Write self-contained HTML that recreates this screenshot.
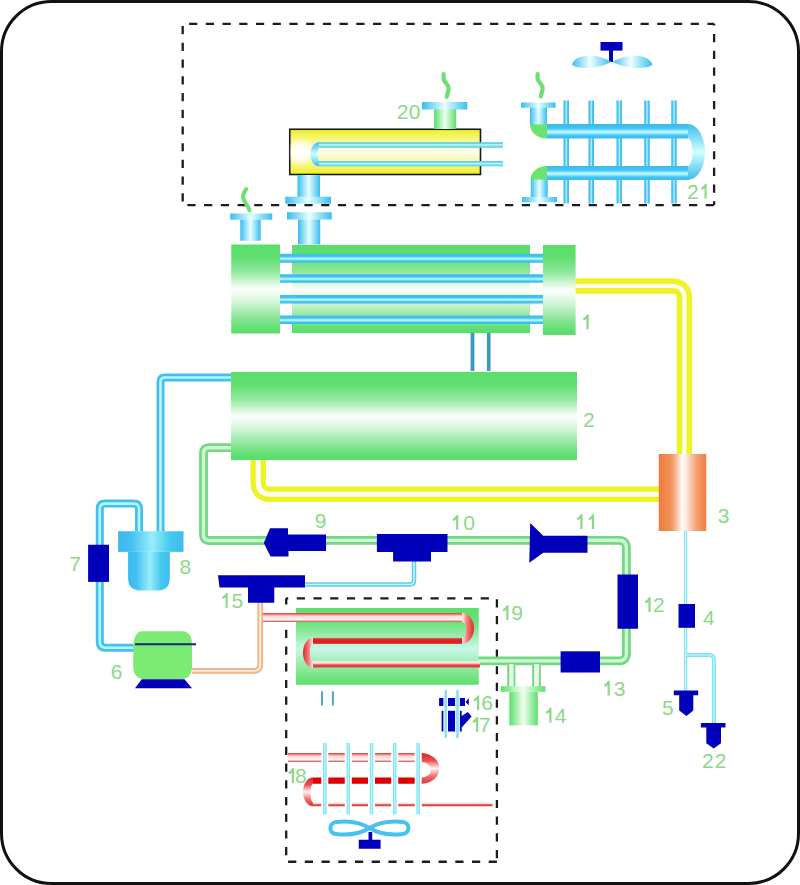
<!DOCTYPE html>
<html><head><meta charset="utf-8"><style>
html,body{margin:0;padding:0;background:#fff;width:800px;height:885px;overflow:hidden}
svg{display:block}
.lab path{fill:#8ad98a}
text{font-family:"Liberation Sans",sans-serif;font-size:21px;letter-spacing:0.8px;fill:#8ad98a}
</style></head><body>
<svg width="800" height="885" viewBox="0 0 800 885">
<defs>
<linearGradient id="gV" x1="0" y1="0" x2="0" y2="1">
<stop offset="0" stop-color="#5ade6a"/><stop offset="0.14" stop-color="#60df70"/><stop offset="0.3" stop-color="#8ee89a"/><stop offset="0.5" stop-color="#fbfffb"/><stop offset="0.56" stop-color="#eefbf0"/><stop offset="0.68" stop-color="#c6f2cc"/><stop offset="0.83" stop-color="#8ae596"/><stop offset="0.95" stop-color="#5edf6e"/><stop offset="1" stop-color="#5ade6a"/>
</linearGradient>
<linearGradient id="g19" x1="0" y1="0" x2="0" y2="1">
<stop offset="0" stop-color="#5cdf6b"/><stop offset="0.2" stop-color="#6ce27a"/><stop offset="0.53" stop-color="#c8f8e8"/><stop offset="0.8" stop-color="#8ae89a"/><stop offset="1" stop-color="#5cdf6b"/>
</linearGradient>
<linearGradient id="cH" x1="0" y1="0" x2="1" y2="0">
<stop offset="0" stop-color="#38bdf0"/><stop offset="0.5" stop-color="#e6ffff"/><stop offset="1" stop-color="#38bdf0"/>
</linearGradient>
<linearGradient id="cV" x1="0" y1="0" x2="0" y2="1">
<stop offset="0" stop-color="#3cbcec"/><stop offset="0.3" stop-color="#40c4f0"/><stop offset="0.55" stop-color="#c8fcff"/><stop offset="0.8" stop-color="#40c4f0"/><stop offset="1" stop-color="#3cbcec"/>
</linearGradient>
<linearGradient id="gH" x1="0" y1="0" x2="1" y2="0">
<stop offset="0" stop-color="#5cdf6b"/><stop offset="0.5" stop-color="#f0fff0"/><stop offset="1" stop-color="#5cdf6b"/>
</linearGradient>
<linearGradient id="yV" x1="0" y1="0" x2="0" y2="1">
<stop offset="0" stop-color="#eef020"/><stop offset="0.5" stop-color="#fffff4"/><stop offset="1" stop-color="#eef020"/>
</linearGradient>
<linearGradient id="oH" x1="0" y1="0" x2="1" y2="0">
<stop offset="0" stop-color="#ee7c3c"/><stop offset="0.25" stop-color="#f2905a"/><stop offset="0.4" stop-color="#f8c8ac"/><stop offset="0.49" stop-color="#ffffff"/><stop offset="0.56" stop-color="#fdeee4"/><stop offset="0.78" stop-color="#f4a478"/><stop offset="1" stop-color="#ee7e40"/>
</linearGradient>
<linearGradient id="fan" x1="0" y1="0" x2="1" y2="0">
<stop offset="0" stop-color="#3cbcf0"/><stop offset="0.45" stop-color="#f0ffff"/><stop offset="1" stop-color="#3cbcf0"/>
</linearGradient>
<linearGradient id="uV" x1="0" y1="0" x2="0" y2="1">
<stop offset="0" stop-color="#3cbcec"/><stop offset="0.5" stop-color="#d0ffff"/><stop offset="1" stop-color="#3cbcec"/>
</linearGradient>
<linearGradient id="rT" x1="0" y1="0" x2="0" y2="1">
<stop offset="0" stop-color="#d83838"/><stop offset="0.35" stop-color="#ffd8d8"/><stop offset="0.75" stop-color="#fff4f4"/><stop offset="1" stop-color="#c85040"/>
</linearGradient>
<linearGradient id="rM" x1="0" y1="0" x2="0" y2="1">
<stop offset="0" stop-color="#f07070"/><stop offset="0.3" stop-color="#e02020"/><stop offset="1" stop-color="#d82020"/>
</linearGradient>
<linearGradient id="rB" x1="0" y1="0" x2="0" y2="1">
<stop offset="0" stop-color="#fff4f4"/><stop offset="0.35" stop-color="#ffc8c8"/><stop offset="0.6" stop-color="#e04848"/><stop offset="1" stop-color="#d04040"/>
</linearGradient>
<linearGradient id="rU" x1="0" y1="0" x2="1" y2="0">
<stop offset="0" stop-color="#e02828"/><stop offset="0.6" stop-color="#f48080"/><stop offset="1" stop-color="#fff0f0"/>
</linearGradient>
<linearGradient id="rUR" x1="0" y1="0" x2="1" y2="0">
<stop offset="0" stop-color="#fff0f0"/><stop offset="0.4" stop-color="#f48080"/><stop offset="1" stop-color="#e02828"/>
</linearGradient>
<radialGradient id="yR" gradientUnits="userSpaceOnUse" cx="301" cy="152" r="14" gradientTransform="translate(301,152) scale(1,1.1) translate(-301,-152)">
<stop offset="0" stop-color="#ffffff" stop-opacity="1"/><stop offset="0.45" stop-color="#ffffff" stop-opacity="0.75"/><stop offset="1" stop-color="#ffffff" stop-opacity="0"/>
</radialGradient>
<linearGradient id="tubeY" x1="0" y1="0" x2="0" y2="1">
<stop offset="0" stop-color="#58cce4"/><stop offset="0.25" stop-color="#64d4ec"/><stop offset="0.45" stop-color="#c0faff"/><stop offset="0.75" stop-color="#7adcec"/><stop offset="1" stop-color="#58cce4"/>
</linearGradient>
<linearGradient id="c8" x1="0" y1="0" x2="1" y2="0">
<stop offset="0" stop-color="#3cb8f0"/><stop offset="0.2" stop-color="#44c0f0"/><stop offset="0.52" stop-color="#98ecfa"/><stop offset="0.8" stop-color="#44c8f0"/><stop offset="1" stop-color="#3cbcf0"/>
</linearGradient>
<linearGradient id="rUV" x1="0" y1="0" x2="0" y2="1">
<stop offset="0" stop-color="#e02424"/><stop offset="0.25" stop-color="#ec5050"/><stop offset="0.5" stop-color="#fff4f4"/><stop offset="0.75" stop-color="#f07070"/><stop offset="1" stop-color="#e03030"/>
</linearGradient>
<linearGradient id="fin" x1="0" y1="0" x2="1" y2="0">
<stop offset="0" stop-color="#70d8ec"/><stop offset="0.5" stop-color="#b8f6fc"/><stop offset="1" stop-color="#70d8ec"/>
</linearGradient>
<linearGradient id="finC" x1="0" y1="0" x2="1" y2="0">
<stop offset="0" stop-color="#3cb8ea"/><stop offset="0.3" stop-color="#52c8f0"/><stop offset="0.5" stop-color="#c4f6ff"/><stop offset="0.7" stop-color="#52c8f0"/><stop offset="1" stop-color="#3cb8ea"/>
</linearGradient>
</defs>

<!-- outer frame -->
<rect x="1.5" y="1.5" width="797" height="882" rx="50" ry="50" fill="#fff" stroke="#111" stroke-width="3"/>

<!-- dashed boxes -->
<g fill="none" stroke="#1c1c1c" stroke-width="2.3" stroke-dasharray="8.2 8.52">
<line x1="182.70" y1="23.85" x2="714.10" y2="23.85" stroke-dashoffset="10.32"/>
<line x1="714.10" y1="23.85" x2="714.10" y2="205.10" stroke-dashoffset="6.47"/>
<line x1="182.70" y1="205.10" x2="714.10" y2="205.10" stroke-dashoffset="12.02"/>
<line x1="182.70" y1="23.85" x2="182.70" y2="205.10" stroke-dashoffset="14.47"/>
<line x1="286.20" y1="598.35" x2="496.90" y2="598.35" stroke-dashoffset="6.17"/>
<line x1="496.90" y1="598.35" x2="496.90" y2="861.75" stroke-dashoffset="15.82"/>
<line x1="286.20" y1="861.75" x2="496.90" y2="861.75" stroke-dashoffset="14.82"/>
<line x1="286.20" y1="598.35" x2="286.20" y2="861.75" stroke-dashoffset="2.05"/>
</g>

<!-- top fan -->
<rect x="600.5" y="42" width="22" height="8.6" fill="#0000bb"/>
<rect x="609" y="50" width="4" height="12" fill="#0000bb"/>
<path d="M611.5,62 C604,57 595,55.2 586,55.8 C578,56.5 573,60.5 572,64.5 C574.5,67.5 583,68.6 592,67.8 C600,67 606,64.5 611.5,62 Z" fill="url(#fan)"/>
<path d="M612.5,62 C620,57 629,55.2 638,55.8 C646,56.5 651,60.5 652.5,64.5 C650,67.5 641,68.6 632,67.8 C624,67 618,64.5 612.5,62 Z" fill="url(#fan)"/>

<!-- component 20 yellow box -->
<rect x="289.75" y="129.25" width="190.75" height="45.25" fill="url(#yV)" stroke="#1a1a1a" stroke-width="1.6"/>
<!-- U tube inside 20 -->
<rect x="289.75" y="129.25" width="190.75" height="45.25" fill="url(#yR)"/>
<rect x="318.5" y="142.2" width="184.5" height="5.6" fill="url(#tubeY)"/>
<rect x="318.5" y="161" width="184.5" height="5.3" fill="url(#tubeY)"/>
<path d="M319,142.2 A8.7,12 0 0 0 319,166.3 L319,161 A1.5,6.6 0 0 1 319,147.8 Z" fill="url(#uV)"/>
<!-- 20 outlet -->
<rect x="434" y="109" width="22.25" height="20" fill="url(#gH)"/>
<rect x="422" y="102" width="45.25" height="7.5" fill="url(#cH)"/>
<path d="M443.6,74.2 L443.6,79 C444,82.5 448.6,84 448.6,88 C448.6,92 447.2,94 446.8,96.8" fill="none" stroke="#6ce070" stroke-width="4.2" stroke-linecap="round"/>


<!-- pipe from 20 down to 1 -->
<rect x="297.5" y="175" width="22.5" height="22" fill="url(#cH)"/>
<rect x="285.25" y="196.75" width="45.75" height="7" fill="url(#cH)"/>
<rect x="287" y="212.25" width="44.75" height="7.25" fill="url(#cH)"/>
<rect x="298" y="219.5" width="22.25" height="25" fill="url(#cH)"/>

<!-- steam vent left -->
<path d="M246.3,189 C244,192 242.5,195 243.5,199 C244.5,203 249,206 249.5,210.5" fill="none" stroke="#6ce070" stroke-width="4" stroke-linecap="round"/>
<rect x="230.25" y="213.5" width="42" height="6.25" fill="url(#cH)"/>
<rect x="240.25" y="219.75" width="20.5" height="21" fill="url(#cH)"/>

<!-- condenser 21 -->
<g>
<rect x="563.5" y="100.5" width="5.5" height="103" fill="url(#finC)"/>
<rect x="588.5" y="100.5" width="5.5" height="103" fill="url(#finC)"/>
<rect x="616.5" y="100.5" width="5.5" height="103" fill="url(#finC)"/>
<rect x="644.25" y="100.5" width="5.5" height="103" fill="url(#finC)"/>
<rect x="671.25" y="100.5" width="5.5" height="103" fill="url(#finC)"/>
</g>
<rect x="547" y="124" width="141" height="14.5" fill="url(#cV)"/>
<rect x="547" y="166" width="141" height="14" fill="url(#cV)"/>
<path d="M688,124 A17,28 0 0 1 688,180 L688,166 A4.5,13.75 0 0 0 688,138.5 Z" fill="url(#uV)"/>
<rect x="530" y="107" width="17" height="18.5" fill="url(#cH)"/>
<rect x="521" y="102.5" width="34.6" height="5.25" fill="url(#cH)"/>
<path d="M547,124.5 L530,124.5 A17,14 0 0 0 547,138.5 Z" fill="#6ae46e"/>
<path d="M547,180 L530.5,180 A16.5,14 0 0 1 547,166 Z" fill="#6ae46e"/>
<rect x="530.75" y="179.5" width="17" height="18" fill="url(#cH)"/>
<rect x="522" y="197" width="35" height="5.25" fill="url(#cH)"/>
<path d="M537.6,74 L537.6,78.8 C538,82.3 542.6,83.8 542.6,87.8 C542.6,91.8 541.2,93.8 540.8,96.4" fill="none" stroke="#6ce070" stroke-width="4.2" stroke-linecap="round"/>


<!-- component 1 -->
<rect x="231.25" y="244.5" width="48.75" height="89" fill="url(#gV)"/>
<rect x="292" y="245" width="238" height="88" fill="url(#gV)"/>
<rect x="543" y="245" width="32.6" height="90" fill="url(#gV)"/>
<g>
<rect x="280" y="253.75" width="263" height="9" fill="url(#cV)"/>
<rect x="280" y="274.25" width="263" height="8.5" fill="url(#cV)"/>
<rect x="280" y="295" width="263" height="8.5" fill="url(#cV)"/>
<rect x="280" y="315.5" width="263" height="8.5" fill="url(#cV)"/>
</g>


<!-- connection 1-2 -->
<rect x="470.6" y="333" width="3.8" height="38" fill="#3a9cbc"/>
<rect x="486.9" y="333" width="3.7" height="38" fill="#3a9cbc"/>

<!-- yellow pipe 1 -> 3 -->
<path d="M575.6,286 L672,286 Q684.4,286 684.4,298 L684.4,454" fill="none" stroke="#eef228" stroke-width="15.5"/>
<path d="M575.6,286 L672,286 Q684.4,286 684.4,298 L684.4,454" fill="none" stroke="#fdfff0" stroke-width="4.2"/>
<!-- yellow pipe 2 -> 3 -->
<path d="M258.25,460 L258.25,482 Q258.25,494.25 270.5,494.25 L659,494.25" fill="none" stroke="#eef228" stroke-width="15.5"/>
<path d="M258.25,460 L258.25,482 Q258.25,494.25 270.5,494.25 L659,494.25" fill="none" stroke="#fdfff0" stroke-width="5"/>

<!-- blue pipe from 2 to 8 -->
<path d="M231,377.5 L165,377.5 Q160.5,377.5 160.5,382 L160.5,531.5" fill="none" stroke="#42bfee" stroke-width="8"/>
<path d="M231,377.5 L165,377.5 Q160.5,377.5 160.5,382 L160.5,531.5" fill="none" stroke="#b4f8ff" stroke-width="2.6"/>
<!-- blue pipe 8 -> 7 -> 6 -->
<path d="M139,531.5 L139,509 Q139,503.6 133.6,503.6 L105,503.6 Q99.75,503.6 99.75,509 L99.75,642 Q99.75,647.75 105.5,647.75 L134,647.75" fill="none" stroke="#42bfee" stroke-width="8"/>
<path d="M139,531.5 L139,509 Q139,503.6 133.6,503.6 L105,503.6 Q99.75,503.6 99.75,509 L99.75,642 Q99.75,647.75 105.5,647.75 L134,647.75" fill="none" stroke="#b4f8ff" stroke-width="2.6"/>

<!-- green pipe 2 -> 9 -> 10 -> 11 -> 12 -> 13 -> 19 -->
<path d="M231,447.7 L209,447.7 Q203.5,447.7 203.5,453 L203.5,535 Q203.5,540.5 209,540.5 L268,540.5" fill="none" stroke="#74d784" stroke-width="8.8"/>
<path d="M231,447.7 L209,447.7 Q203.5,447.7 203.5,453 L203.5,535 Q203.5,540.5 209,540.5 L268,540.5" fill="none" stroke="#cdf6d3" stroke-width="3.4"/>
<path d="M325,540.4 L619,540.3 Q626.4,540.3 626.4,548 L626.4,653.5 Q626.4,660.85 619,660.85 L478,660.85" fill="none" stroke="#74d784" stroke-width="8.8"/>
<path d="M325,540.4 L619,540.3 Q626.4,540.3 626.4,548 L626.4,653.5 Q626.4,660.85 619,660.85 L478,660.85" fill="none" stroke="#cdf6d3" stroke-width="3.4"/>

<!-- cyan pipe 15 -> 10 -->
<path d="M305,584.5 L410,584.5 Q414,584.5 414,580.5 L414,561" fill="none" stroke="#5ccdf0" stroke-width="4.5"/>
<path d="M305,584.5 L410,584.5 Q414,584.5 414,580.5 L414,561" fill="none" stroke="#c8fbff" stroke-width="1.4"/>

<!-- component 2 -->
<rect x="231" y="372" width="346" height="88" fill="url(#gV)"/>


<!-- component 3 -->
<rect x="658.75" y="454" width="47.5" height="77" fill="url(#oH)"/>

<!-- thin cyan line 3 -> 4 -> 5 -->
<rect x="684" y="531" width="3.2" height="160" fill="#7ae2f2"/>
<rect x="684.9" y="531" width="1.3" height="160" fill="#c8f8ff"/>
<path d="M686,655 L709,655 Q714,655 714,660 L714,723" fill="none" stroke="#7ae2f2" stroke-width="3.8"/>
<path d="M686,655 L709,655 Q714,655 714,660 L714,723" fill="none" stroke="#c8f8ff" stroke-width="1.2"/>
<rect x="678.5" y="604" width="16.5" height="23.8" fill="#0000bb"/>

<path d="M673.8,690.4 L698.2,690.4 L698.2,695.25 L693.3,695.25 L693.3,710.5 L686.5,716 L679.2,710.5 L679.2,695.25 L673.8,695.25 Z" fill="#0000bb"/>

<path d="M700.9,723 L725.5,723 L725.5,727.5 L721,727.5 L721,743.3 L713.7,748.4 L706.3,743.3 L706.3,727.5 L700.9,727.5 Z" fill="#0000bb"/>


<!-- component 8 -->
<path d="M128.1,551.9 L169.75,551.9 L169.75,578 Q169.75,590.6 157,590.6 L141,590.6 Q128.1,590.6 128.1,578 Z" fill="url(#c8)"/>
<rect x="118.1" y="531.25" width="65.4" height="20.65" fill="url(#c8)"/>


<!-- component 7 -->
<rect x="88.1" y="544.75" width="20.9" height="37.15" fill="#0000bb"/>


<!-- orange pipe 6 -> 15 -->
<path d="M192,670.9 L254,670.9 Q260.25,670.9 260.25,664.5 L260.25,602" fill="none" stroke="#f2b488" stroke-width="5.8"/>
<path d="M192,670.9 L254,670.9 Q260.25,670.9 260.25,664.5 L260.25,602" fill="none" stroke="#fff0e4" stroke-width="1.8"/>

<!-- component 6 -->
<path d="M142,631.25 L184,631.25 Q192,633 192,645 L192,668 Q191,679.25 180,679.25 L146,679.25 Q133.2,679.25 133.2,666 L133.2,648 Q133.5,632 142,631.25 Z" fill="#7ceb74"/>
<rect x="135" y="643.25" width="61" height="2" fill="#0c2a80"/>
<path d="M141.75,679.25 L184.5,679.25 L192,688.25 L135,688.25 Z" fill="#0000bb"/>


<!-- component 15 -->
<path d="M218,575.2 L305,575.2 L305,587.5 L274.25,587.5 L274.25,602.8 L248,602.8 L248,587.5 L219.5,587.5 Z" fill="#0000bb"/>


<!-- component 9 -->
<path d="M263.8,543 L270,528.2 L288,528.2 L288,534.5 L326,534.5 L326,551 L288.5,551 L288.5,556.5 L270.5,556.5 Z" fill="#0000bb"/>


<!-- component 10 -->
<path d="M376.9,534 L447.5,534 L447.5,551.9 L431,551.9 L431,561.5 L393.1,561.5 L393.1,551.9 L376.9,551.9 Z" fill="#0000bb"/>


<!-- component 11 -->
<path d="M530.2,523 L543.25,535.75 L587.5,535.75 L587.5,552.7 L543.25,552.7 L529.3,562.75 Z" fill="#0000bb"/>


<!-- component 12 -->
<rect x="617.5" y="574.5" width="20.5" height="54.25" fill="#0000bb"/>


<!-- component 13 -->
<rect x="560.6" y="651.3" width="39.4" height="21.2" fill="#0000bb"/>


<!-- component 14 -->
<g>
<rect x="507.3" y="664" width="8.1" height="23" fill="#e6fae8"/>
<rect x="507.3" y="664" width="1.9" height="23" fill="#6ed87e"/>
<rect x="513.5" y="664" width="1.9" height="23" fill="#7adc8a"/>
<rect x="532.2" y="664" width="8.7" height="23" fill="#e6fae8"/>
<rect x="532.2" y="664" width="1.9" height="23" fill="#6ed87e"/>
<rect x="539" y="664" width="1.9" height="23" fill="#7adc8a"/>
</g>
<rect x="509.3" y="691.8" width="28.5" height="33.6" fill="url(#gH)"/>
<rect x="500.7" y="686.2" width="44.7" height="5.6" fill="url(#gH)"/>


<!-- component 19 -->
<rect x="296" y="608" width="182.75" height="76.75" fill="url(#g19)"/>
<rect x="263" y="613" width="199" height="9" fill="url(#rT)"/>
<rect x="313" y="637.8" width="149" height="6" fill="url(#rM)"/>
<rect x="313" y="661.25" width="167" height="6.25" fill="url(#rB)"/>
<path d="M462,613 A12,15.4 0 0 1 462,643.8 L462,637.8 A4,7.9 0 0 0 462,622 Z" fill="url(#rUR)"/>
<path d="M313,637.8 A10,14.85 0 0 0 313,667.5 L313,661.25 A3,8.6 0 0 1 313,643.8 Z" fill="url(#rU)"/>
<!-- little teal lines -->
<rect x="321" y="691.25" width="2" height="14.25" fill="#4ea8c8"/>
<rect x="331.9" y="691.25" width="2" height="14.25" fill="#4ea8c8"/>

<!-- 16 / 17 -->
<path d="M439.1,698 L465,698 L465,706 L439.1,706 Z M465.5,702 L468.8,698 L468.8,705.3 Z" fill="#0000bb"/>
<path d="M441.6,710.8 L461.7,710.8 L461.7,716 L467.8,711.9 L471.6,716.4 L461.7,727.6 L461.7,731.4 L441.6,731.4 Z" fill="#0000bb"/>
<rect x="443.4" y="690" width="4.6" height="48" fill="#fff"/>
<rect x="455.1" y="690" width="4.8" height="48" fill="#fff"/>
<rect x="444.5" y="690" width="2.5" height="48" fill="#86e2f4"/>
<rect x="456.2" y="690" width="2.6" height="48" fill="#86e2f4"/>

<!-- component 18 -->
<rect x="288" y="753" width="133" height="9" fill="url(#rT)"/>
<rect x="313" y="777.5" width="108" height="6.25" fill="#e00000"/>
<rect x="313" y="802.5" width="179.5" height="3.75" fill="url(#rB)"/>
<path d="M421,753 A18.5,15.375 0 0 1 421,783.75 L421,777.5 A10,7.75 0 0 0 421,762 Z" fill="url(#rUV)"/>
<path d="M313,777.5 A10,14.375 0 0 0 313,806.25 L313,802.5 A2.5,9.375 0 0 1 313,783.75 Z" fill="url(#rUV)"/>
<g fill="#fff">
<rect x="321.3" y="743" width="7" height="71.4"/>
<rect x="344.8" y="743" width="7" height="71.4"/>
<rect x="368" y="743" width="7" height="71.4"/>
<rect x="391.2" y="743" width="7" height="71.4"/>
<rect x="414.7" y="743" width="7" height="71.4"/>
</g>
<g fill="url(#fin)">
<rect x="323.1" y="743" width="3.4" height="71.4"/>
<rect x="346.6" y="743" width="3.4" height="71.4"/>
<rect x="369.8" y="743" width="3.4" height="71.4"/>
<rect x="393" y="743" width="3.4" height="71.4"/>
<rect x="416.5" y="743" width="3.4" height="71.4"/>
</g>

<!-- bottom fan -->
<path d="M369.5,828 C358,821 344,821 336,822 C329,823 328,833 336,834 C344,835 358,835 369.5,828 C381,821 395,821 403,822 C410,823 410.5,833 403,834 C395,835 381,835 369.5,828 Z" fill="none" stroke="#48c0f0" stroke-width="4"/>
<rect x="368.5" y="832" width="3.75" height="8" fill="#0000bb"/>
<rect x="358.75" y="839.75" width="21.85" height="9" fill="#0000bb"/>

<!-- labels -->
<g class="lab">
<text x="396.63" y="118.75">2</text>
<text x="408.74" y="118.75">0</text>
<text x="686.98" y="198.60">2</text>
<path d="M704.50,198.60 L704.50,188.30 Q703.20,189.30 701.30,189.90 L701.30,187.60 Q703.70,186.60 705.00,183.90 L706.70,183.90 L706.70,198.60 Z"/>
<path d="M586.50,329.20 L586.50,318.90 Q585.20,319.90 583.30,320.50 L583.30,318.20 Q585.70,317.20 587.00,314.50 L588.70,314.50 L588.70,329.20 Z"/>
<text x="582.96" y="426.50">2</text>
<text x="717.71" y="523.00">3</text>
<text x="703.01" y="625.00">4</text>
<text x="661.96" y="715.00">5</text>
<text x="701.88" y="767.75">2</text>
<text x="714.70" y="767.75">2</text>
<text x="110.73" y="678.50">6</text>
<text x="69.16" y="571.25">7</text>
<text x="179.49" y="573.75">8</text>
<text x="314.66" y="528.00">9</text>
<path d="M456.10,529.70 L456.10,519.40 Q454.80,520.40 452.90,521.00 L452.90,518.70 Q455.30,517.70 456.60,515.00 L458.30,515.00 L458.30,529.70 Z"/>
<text x="463.14" y="529.70">0</text>
<path d="M580.30,529.00 L580.30,518.70 Q579.00,519.70 577.10,520.30 L577.10,518.00 Q579.50,517.00 580.80,514.30 L582.50,514.30 L582.50,529.00 Z"/>
<path d="M591.90,529.00 L591.90,518.70 Q590.60,519.70 588.70,520.30 L588.70,518.00 Q591.10,517.00 592.40,514.30 L594.10,514.30 L594.10,529.00 Z"/>
<path d="M648.40,612.00 L648.40,601.70 Q647.10,602.70 645.20,603.30 L645.20,601.00 Q647.60,600.00 648.90,597.30 L650.60,597.30 L650.60,612.00 Z"/>
<text x="653.05" y="612.00">2</text>
<path d="M607.55,695.50 L607.55,685.20 Q606.25,686.20 604.35,686.80 L604.35,684.50 Q606.75,683.50 608.05,680.80 L609.75,680.80 L609.75,695.50 Z"/>
<text x="613.84" y="695.50">3</text>
<path d="M549.30,722.50 L549.30,712.20 Q548.00,713.20 546.10,713.80 L546.10,711.50 Q548.50,710.50 549.80,707.80 L551.50,707.80 L551.50,722.50 Z"/>
<text x="554.79" y="722.50">4</text>
<path d="M225.55,607.75 L225.55,597.45 Q224.25,598.45 222.35,599.05 L222.35,596.75 Q224.75,595.75 226.05,593.05 L227.75,593.05 L227.75,607.75 Z"/>
<text x="231.49" y="607.75">5</text>
<path d="M477.00,710.20 L477.00,699.90 Q475.70,700.90 473.80,701.50 L473.80,699.20 Q476.20,698.20 477.50,695.50 L479.20,695.50 L479.20,710.20 Z"/>
<text x="481.24" y="710.20">6</text>
<path d="M476.00,731.80 L476.00,721.50 Q474.70,722.50 472.80,723.10 L472.80,720.80 Q475.20,719.80 476.50,717.10 L478.20,717.10 L478.20,731.80 Z"/>
<text x="479.05" y="731.80">7</text>
<path d="M291.80,783.00 L291.80,772.70 Q290.50,773.70 288.60,774.30 L288.60,772.00 Q291.00,771.00 292.30,768.30 L294.00,768.30 L294.00,783.00 Z"/>
<text x="295.09" y="783.00">8</text>
<path d="M506.30,620.00 L506.30,609.70 Q505.00,610.70 503.10,611.30 L503.10,609.00 Q505.50,608.00 506.80,605.30 L508.50,605.30 L508.50,620.00 Z"/>
<text x="511.34" y="620.00">9</text>
</g>
</svg>
</body></html>
